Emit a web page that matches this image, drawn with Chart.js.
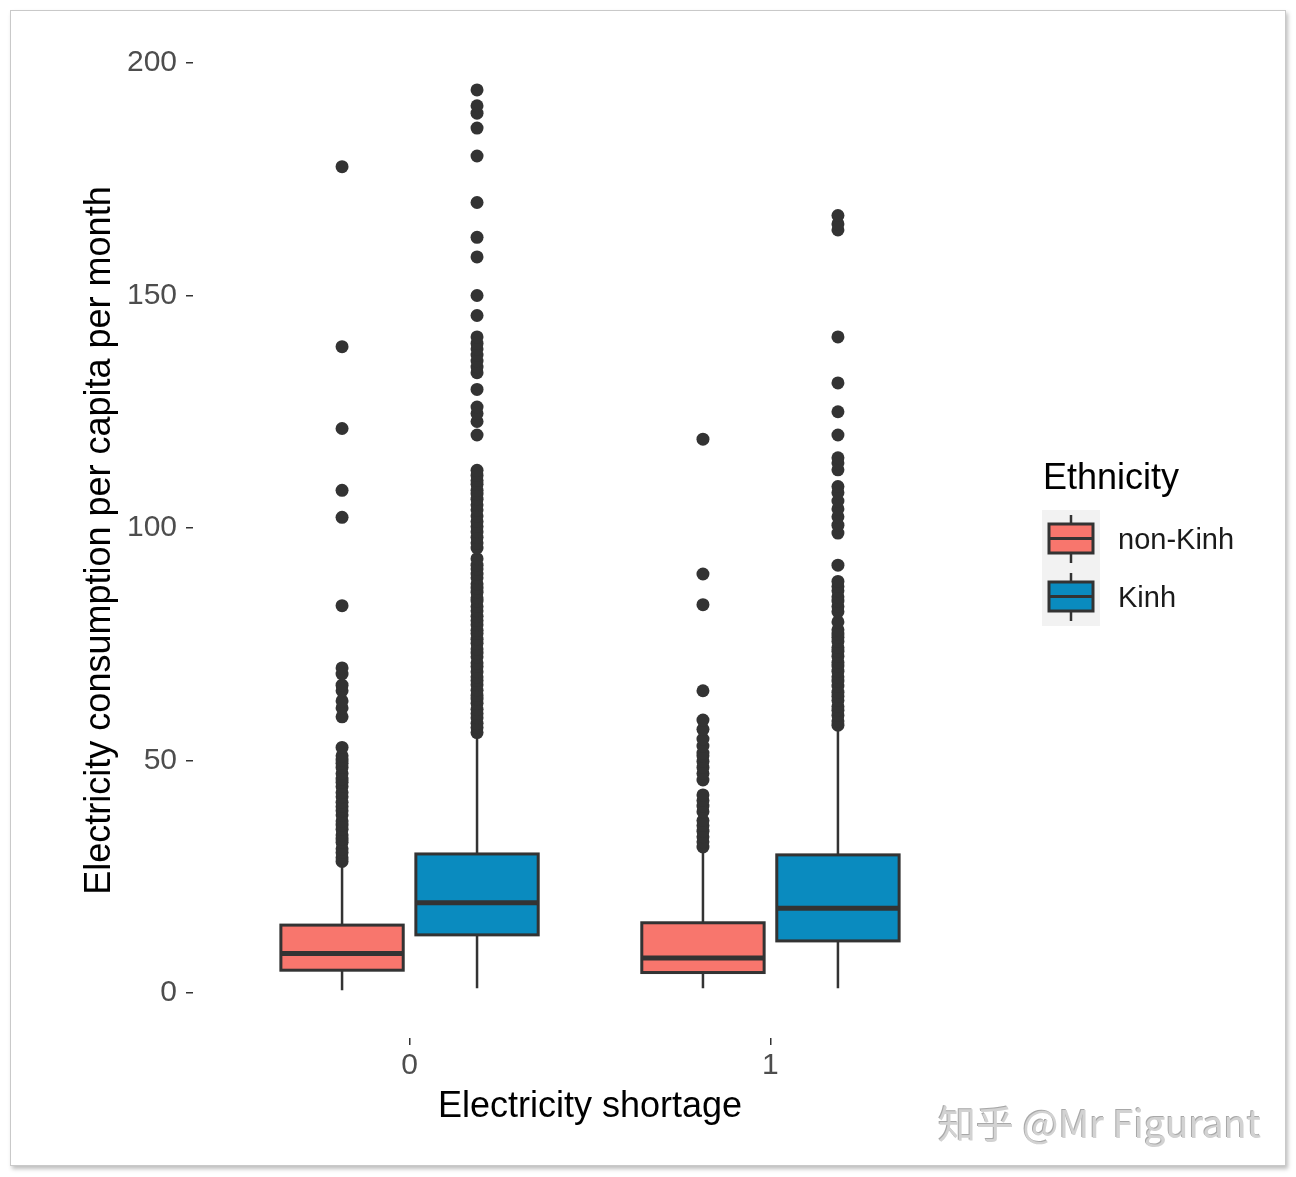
<!DOCTYPE html>
<html>
<head>
<meta charset="utf-8">
<script src="https://cdn.jsdelivr.net/npm/chart.js@4.4.1/dist/chart.umd.min.js"></script>
<style>
	html, body { margin: 0; padding: 0; background: #fff; }
	#wrap { position: relative; width: 1296px; height: 1177px; overflow: hidden; }
	#frame {
		position: absolute; left: 10px; top: 10px; width: 1274px; height: 1154px;
		border: 1px solid #c9c9c9; background: #fff;
		box-shadow: 2px 3px 4px rgba(0, 0, 0, 0.25);
	}
	#myChart { position: absolute; left: 0; top: 0; }
	#mark {
		position: absolute; left: 938px; top: 1094px;
		font-family: "Noto Sans CJK SC", "Liberation Sans", sans-serif; font-size: 38px;
		color: #d2d2d2; text-shadow: -1px -1px 0 #a8a8a8, 1px 1px 0 #fff;
		white-space: nowrap;
	}
</style>
</head>
<body>
<div id="wrap">
	<div id="frame"></div>
	<canvas id="myChart" width="1296" height="1177"></canvas>
	<div id="mark">知乎 @Mr Figurant</div>
</div>
<script>
// categories and series
var groups = ['0', '1'];
var seriesNames = ['non-Kinh', 'Kinh'];
var yTicks = [0, 50, 100, 150, 200];

// box stats per group: [group 0, group 1]
var nonKinhLow = [0.6, 1.0];
var nonKinhQ1 = [4.9, 4.4];
var nonKinhMedian = [8.5, 7.5];
var nonKinhQ3 = [14.6, 15.1];
var nonKinhHigh = [28.0, 30.1];

var kinhLow = [1.0, 1.0];
var kinhQ1 = [12.5, 11.2];
var kinhMedian = [19.4, 18.2];
var kinhQ3 = [29.9, 29.7];
var kinhHigh = [55.5, 57.3];

// outliers
var nonKinhOut0 = [28.3, 29.1, 30.2, 31.0, 32.4, 33.1, 34.0, 35.2, 36.1, 37.0, 38.3, 39.2, 40.1, 41.0, 42.2,
	43.1, 44.4, 45.3, 46.0, 47.2, 48.5, 49.4, 50.1, 51.0, 52.8, 59.4, 61.3, 62.8, 65.0, 66.2, 68.6, 69.9,
	83.3, 102.3, 108.1, 121.4, 139.0, 177.7];
var kinhOut0 = [56.0, 57.1, 58.0, 59.2, 60.1, 61.0, 62.3, 63.2, 64.0, 65.1, 66.3, 67.2, 68.0, 69.1, 70.2,
	71.0, 72.3, 73.1, 74.0, 75.2, 76.1, 77.3, 78.0, 79.2, 80.1, 81.0, 82.2, 83.1, 84.3, 85.0, 86.2, 87.1,
	88.0, 89.3, 90.1, 91.2, 92.0, 93.4, 95.7, 96.8, 98.0, 99.2, 100.3, 101.4, 102.6, 103.9, 105.0, 106.2,
	107.3, 108.1, 109.4, 110.2, 111.3, 112.4, 120.0, 122.9, 124.6, 126.0, 129.8, 133.4, 134.6, 135.9,
	137.2, 138.5, 139.7, 141.1, 145.7, 150.0, 158.3, 162.5, 170.0, 180.0, 186.0, 189.2, 190.8, 194.2];
var nonKinhOut1 = [31.4, 32.5, 33.6, 34.8, 36.0, 37.1, 39.0, 40.2, 41.4, 42.6, 45.8, 47.2, 48.5, 49.8,
	51.0, 51.6, 53.1, 54.6, 56.7, 58.7, 65.0, 83.5, 90.1, 119.1];
var kinhOut1 = [57.6, 58.5, 59.7, 60.8, 61.6, 62.9, 63.8, 64.7, 66.0, 67.1, 68.0, 69.2, 70.3, 71.1, 72.4,
	73.5, 74.3, 75.6, 76.5, 77.2, 78.1, 79.8, 82.0, 83.1, 84.3, 85.2, 86.5, 87.4, 88.5, 92.0, 98.9, 100.6,
	102.4, 104.1, 105.8, 107.6, 108.9, 112.5, 114.0, 115.1, 120.0, 125.0, 131.2, 141.1, 164.1, 165.4, 167.2];

var chartTool = {
	fill: ['#f8766d', '#0a8bbf'],
	ink: '#333333',
	dodge: 0.187,
	boxWidth: 0.339,
	font: '"Liberation Sans", Arial, sans-serif',
	stats: function() {
		return [
			{low: nonKinhLow, q1: nonKinhQ1, med: nonKinhMedian, q3: nonKinhQ3, high: nonKinhHigh},
			{low: kinhLow, q1: kinhQ1, med: kinhMedian, q3: kinhQ3, high: kinhHigh}
		];
	},
	outlierData: function(s) {
		var lists = s === 0 ? [nonKinhOut0, nonKinhOut1] : [kinhOut0, kinhOut1];
		var off = s === 0 ? -this.dodge : this.dodge;
		var pts = [];
		for (var g = 0; g < lists.length; g++) {
			for (var i = 0; i < lists[g].length; i++) {
				pts.push({x: g + off, y: lists[g][i]});
			}
		}
		return pts;
	},
	// boxes and whiskers, placed with the chart scales
	boxPlugin: {
		id: 'boxes',
		beforeDatasetsDraw: function(chart) {
			var ctx = chart.ctx;
			var xs = chart.scales.x, ys = chart.scales.y;
			var st = chartTool.stats();
			ctx.save();
			for (var s = 0; s < st.length; s++) {
				var off = s === 0 ? -chartTool.dodge : chartTool.dodge;
				for (var g = 0; g < groups.length; g++) {
					var cx = xs.getPixelForValue(g + off);
					var x0 = xs.getPixelForValue(g + off - chartTool.boxWidth / 2);
					var x1 = xs.getPixelForValue(g + off + chartTool.boxWidth / 2);
					var yLow = ys.getPixelForValue(st[s].low[g]);
					var yQ1 = ys.getPixelForValue(st[s].q1[g]);
					var yMed = ys.getPixelForValue(st[s].med[g]);
					var yQ3 = ys.getPixelForValue(st[s].q3[g]);
					var yHigh = ys.getPixelForValue(st[s].high[g]);

					ctx.strokeStyle = chartTool.ink;
					ctx.lineWidth = 2.5;
					ctx.beginPath();
					ctx.moveTo(cx, yLow); ctx.lineTo(cx, yQ1);
					ctx.moveTo(cx, yQ3); ctx.lineTo(cx, yHigh);
					ctx.stroke();

					ctx.fillStyle = chartTool.fill[s];
					ctx.fillRect(x0, yQ3, x1 - x0, yQ1 - yQ3);
					ctx.lineWidth = 3;
					ctx.strokeRect(x0, yQ3, x1 - x0, yQ1 - yQ3);

					ctx.lineWidth = 5;
					ctx.beginPath();
					ctx.moveTo(x0, yMed); ctx.lineTo(x1, yMed);
					ctx.stroke();
				}
			}
			ctx.restore();
		}
	},
	legendPlugin: {
		id: 'boxLegend',
		afterDraw: function(chart) {
			var ctx = chart.ctx;
			ctx.save();
			ctx.fillStyle = '#000';
			ctx.font = '36px ' + chartTool.font;
			ctx.textBaseline = 'middle';
			ctx.fillText('Ethnicity', 1043, 479);

			ctx.fillStyle = '#f2f2f2';
			ctx.fillRect(1042, 510, 58, 116);
			for (var s = 0; s < seriesNames.length; s++) {
				var top = 510 + s * 58;
				ctx.strokeStyle = chartTool.ink;
				ctx.lineWidth = 2.5;
				ctx.beginPath();
				ctx.moveTo(1071, top + 5); ctx.lineTo(1071, top + 53);
				ctx.stroke();
				ctx.fillStyle = chartTool.fill[s];
				ctx.fillRect(1049, top + 14, 44, 29);
				ctx.lineWidth = 3;
				ctx.strokeRect(1049, top + 14, 44, 29);
				ctx.beginPath();
				ctx.moveTo(1049, top + 28.5); ctx.lineTo(1093, top + 28.5);
				ctx.stroke();

				ctx.fillStyle = '#1a1a1a';
				ctx.font = '29px ' + chartTool.font;
				ctx.fillText(seriesNames[s], 1118, top + 31);
			}
			ctx.restore();
		}
	},
	createDisplay: function() {
		var ctx = document.getElementById('myChart').getContext('2d');
		var datasets = [];
		for (var s = 0; s < seriesNames.length; s++) {
			datasets.push({
				label: seriesNames[s],
				data: this.outlierData(s),
				pointRadius: 6.5,
				pointBackgroundColor: this.ink,
				pointBorderWidth: 0,
				showLine: false
			});
		}
		var tickFont = {family: this.font, size: 30};
		var titleFont = {family: this.font, size: 36};
		this.chart = new Chart(ctx, {
			type: 'scatter',
			data: {datasets: datasets},
			plugins: [this.boxPlugin, this.legendPlugin],
			options: {
				responsive: false,
				animation: false,
				devicePixelRatio: 1,
				layout: {padding: {top: 43, right: 309, bottom: 0, left: 0}},
				plugins: {legend: {display: false}, tooltip: {enabled: false}},
				scales: {
					x: {
						type: 'linear',
						min: -0.6,
						max: 1.6,
						afterBuildTicks: function(scale) {
							scale.ticks = groups.map(function(g, i) { return {value: i}; });
						},
						afterFit: function(scale) { scale.height = 139; },
						border: {display: false},
						grid: {drawOnChartArea: false, drawTicks: true, tickLength: 7, color: '#333', lineWidth: 1.5},
						ticks: {
							font: tickFont, color: '#4d4d4d', padding: 3,
							callback: function(v) { return groups[v]; }
						},
						title: {display: true, text: 'Electricity shortage', font: titleFont, color: '#000', padding: {top: 0, bottom: 48}}
					},
					y: {
						min: -9.68,
						max: 204.3,
						afterBuildTicks: function(scale) {
							scale.ticks = yTicks.map(function(v) { return {value: v}; });
						},
						afterFit: function(scale) { scale.width = 193; },
						border: {display: false},
						grid: {drawOnChartArea: false, drawTicks: true, tickLength: 7, color: '#333', lineWidth: 1.5},
						ticks: {font: tickFont, color: '#4d4d4d', padding: 9},
						title: {display: true, text: 'Electricity consumption per capita per month', font: titleFont, color: '#000', padding: {top: 78, bottom: 0}}
					}
				}
			}
		});
	}
};

chartTool.createDisplay();
</script>
</body>
</html>
